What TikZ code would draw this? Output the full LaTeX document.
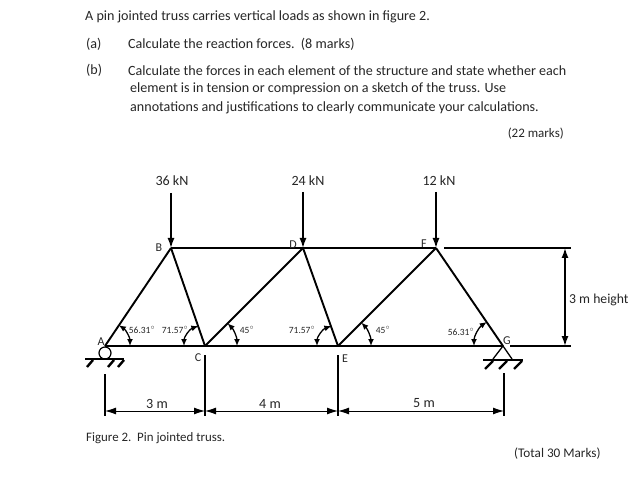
\documentclass[tikz,border=0pt]{standalone}
\usepackage{fontspec}
\setmainfont{Carlito}
\usetikzlibrary{arrows.meta,positioning,calc}

\begin{document}
\begin{tikzpicture}[
        x=1pt, y=1pt,
        every node/.style={inner sep=0pt, font=\fontsize{14.1}{16}\selectfont, text=black!85},
        txt/.style={anchor=west},
        angletxt/.style={font=\fontsize{9.5}{11}\selectfont},
        jointtxt/.style={font=\fontsize{12}{14}\selectfont},
        member/.style={draw, line width=1.9pt},
        load/.style={draw, line width=1.5pt, -{Latex[length=10pt,width=7pt]}},
        anglearc/.style={draw, line width=1.3pt, {Latex[length=7pt,width=6pt]}-{Latex[length=7pt,width=6pt]}},
        dimline/.style={draw, line width=1pt, {Latex[length=11pt,width=7pt]}-{Latex[length=11pt,width=7pt]}},
        extline/.style={draw, line width=1.2pt},
        ground/.style={draw, line width=1.3pt},
        hatch/.style={draw, line width=2.4pt}
    ]
    \useasboundingbox (0,0) rectangle (632,496);

    % question text
    \node[txt] (intro) at (85,479.5) {A pin jointed truss carries vertical loads as shown in figure 2.};
    \node[txt] (parta) at (86,451.5) {(a)};
    \node[txt] (partatxt) at (128,451.5) {Calculate the reaction forces.\ \ (8 marks)};
    \node[txt] (partb) at (86,425.5) {(b)};
    \node[txt] (partbone) at (128,425.5) {Calculate the forces in each element of the structure and state whether each};
    \node[txt] (partbtwo) at (130,407.5) {element is in tension or compression on a sketch of the truss. Use};
    \node[txt] (partbthree) at (130,388.5) {annotations and justifications to clearly communicate your calculations.};
    \node[anchor=east, font=\fontsize{13}{15}\selectfont] (marksb) at (564,362.5) {(22 marks)};

    % joints
    \coordinate (A) at (105,150);
    \coordinate (B) at (171,248);
    \coordinate (C) at (205,150);
    \coordinate (D) at (303,248);
    \coordinate (E) at (338,150);
    \coordinate (F) at (436,248);
    \coordinate (G) at (503,150);

    % members
    \foreach \a/\b in {A/B, B/C, C/D, D/E, E/F, F/G, A/G, B/F}
        \draw[member] (\a) -- (\b);

    \node[jointtxt] (lblA) at (101,154) {A};
    \node[jointtxt] (lblB) at (159,248) {B};
    \node[jointtxt] (lblC) at (198,138) {C};
    \node[jointtxt] (lblD) at (293,251) {D};
    \node[jointtxt] (lblE) at (345,137) {E};
    \node[jointtxt] (lblF) at (424,252) {F};
    \node[jointtxt] (lblG) at (507,155) {G};

    % loads
    \node (loadB) at (172,315.5) {36 kN};
    \node (loadD) at (308,315.5) {24 kN};
    \node (loadF) at (439,315.5) {12 kN};
    \coordinate (topB) at (171,303);
    \coordinate (topD) at (303,304);
    \coordinate (topF) at (436,304);
    \draw[load] (topB) -- (B);
    \draw[load] (topD) -- (D);
    \draw[load] (topF) -- (F);

    % angles
    \foreach \p/\s/\e/\r in {A/0/56.31/25, C/108.43/180/21, C/0/45/32, E/108.43/180/21, E/0/45/33, G/124/180/29}
        \draw[anglearc] ([shift={(\s:\r)}]\p) arc[start angle=\s, end angle=\e, radius=\r];
    \node[angletxt] (angA) at (142,166) {56.31$^{\circ}$};
    \node[angletxt] (angCl) at (175,166) {71.57$^{\circ}$};
    \node[angletxt] (angCr) at (247,166) {45$^{\circ}$};
    \node[angletxt] (angEl) at (302,166) {71.57$^{\circ}$};
    \node[angletxt] (angEr) at (383,166) {45$^{\circ}$};
    \node[angletxt] (angG) at (461,164) {56.31$^{\circ}$};

    % supports
    \node[draw, circle, line width=1.2pt, minimum size=12pt, fill=white] (pin) at (105,143) {};
    \draw[ground] (85,137) -- (124,137);
    \foreach \x in {93,114,124}
        \draw[hatch] (\x,136) -- ++(-6,-7);
    \coordinate (baseL) at (493,137);
    \coordinate (baseR) at (512,137);
    \draw[ground] (baseL) -- (G) -- (baseR);
    \draw[ground] (483,136) -- (523,136);
    \foreach \x in {493,507,522}
        \draw[hatch] (\x,135) -- ++(-8,-8);

    % dimensions
    \coordinate (extA) at (105,80);
    \coordinate (extC) at (205,80);
    \coordinate (extE) at (338,80);
    \coordinate (extG) at (504,80);
    \draw[extline] (105,122) -- (extA);
    \draw[extline] (205,141) -- (extC);
    \draw[extline] (338,141) -- (extE);
    \draw[extline] (504,123) -- (extG);
    \draw[dimline] ($(extA)+(0,5)$) -- ($(extC)+(0,5)$);
    \draw[dimline] ($(extC)+(0,5)$) -- ($(extE)+(0,5)$);
    \draw[dimline] ($(extE)+(0,5)$) -- ($(extG)+(0,5)$);
    \node (dimone) at (157,92.5) {3 m};
    \node (dimtwo) at (270,92.5) {4 m};
    \node (dimthree) at (424,92.5) {5 m};

    % height
    \coordinate (hTop) at (565,248);
    \coordinate (hBot) at (565,150);
    \draw[extline] (444,248) -- (571,248);
    \draw[extline] (510,150) -- (571,150);
    \draw[load, {Latex[length=10pt,width=7pt]}-{Latex[length=10pt,width=7pt]}] (hTop) -- (hBot);
    \node[txt, fill=white, inner xsep=1pt, font=\fontsize{13.7}{16}\selectfont] (height) at (568,196) {3 m height};

    % bottom text
    \node[txt, font=\fontsize{12.9}{15}\selectfont] (caption) at (86,57.5) {Figure 2.\ \ Pin jointed truss.};
    \node[txt, font=\fontsize{13.2}{15}\selectfont] (total) at (514,42.5) {(Total 30 Marks)};
\end{tikzpicture}
\end{document}
